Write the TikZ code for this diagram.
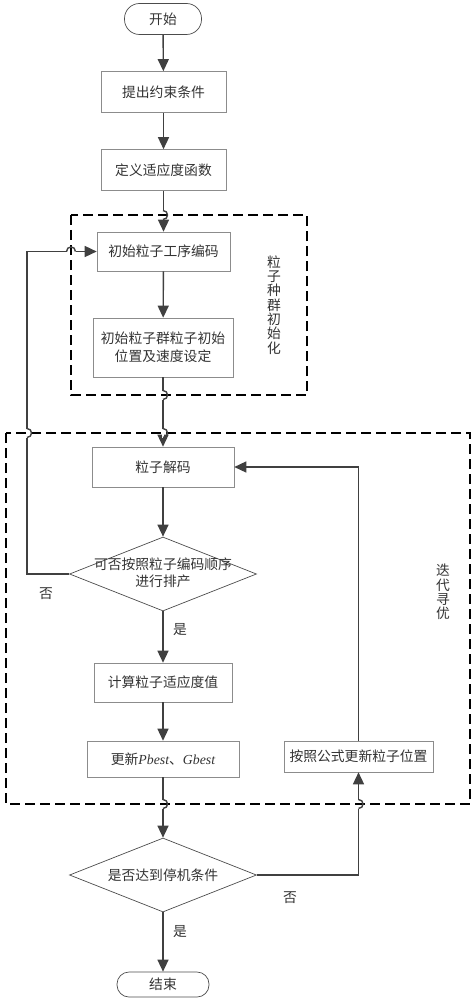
\documentclass[tikz,border=0pt]{standalone}
\usepackage{fontspec}
\setmainfont{Liberation Serif}
\newfontfamily\cjk{Noto Sans CJK SC}
\usetikzlibrary{shapes.geometric,arrows.meta}
\newcommand\hopv[2]{%
  \draw[white,line width=2.4pt] (#1,#2-4.5) -- (#1,#2+4.5);}
\newcommand\hoph[2]{%
  \draw[white,line width=2.4pt] (#1-4.5,#2) -- (#1+4.5,#2);}
\newcommand\arcv[2]{%
  \draw[conn] (#1,#2-4.5) .. controls (#1+6,#2-4.5) and (#1+6,#2+4.5) .. (#1,#2+4.5);}
\newcommand\arch[2]{%
  \draw[conn] (#1-4.5,#2) .. controls (#1-4.5,#2-6) and (#1+4.5,#2-6) .. (#1+4.5,#2);}
\newcommand\lat[1]{{\normalfont\itshape #1}}
\begin{document}
\begin{tikzpicture}[x=1pt,y=-1pt,
  txt/.style={font=\cjk\fontsize{13.8}{17.5}\selectfont,text=black!80},
  box/.style={txt,draw=black!45,line width=0.6pt,inner sep=0pt,align=center},
  term/.style={txt,draw=black!70,line width=0.7pt,rounded corners=12pt,inner sep=0pt},
  dia/.style={diamond,draw=black!70,line width=0.7pt,inner sep=0pt},
  conn/.style={draw=black!75,line width=1.4pt},
  arr/.style={conn,-{Triangle[length=12pt,width=11pt]}},
  grp/.style={draw=black,line width=2pt,dash pattern=on 10pt off 5pt},
  vlab/.style={font=\cjk\fontsize{13.8}{14.3}\selectfont,text=black!80,align=center}]
\useasboundingbox (0,0) rectangle (473,1000);
% nodes
\node[term,minimum width=77pt,minimum height=31pt,rounded corners=15pt] (start) at (163,19) {开始};
\node[box,minimum width=125pt,minimum height=41pt] (b1) at (163.5,92) {提出约束条件};
\node[box,minimum width=125pt,minimum height=41pt] (b2) at (163.5,170) {定义适应度函数};
\node[box,minimum width=133pt,minimum height=39pt] (b3) at (163.5,251.5) {初始粒子工序编码};
\node[box,minimum width=140pt,minimum height=59pt] (b4) at (163,347.5) {初始粒子群粒子初始\\位置及速度设定};
\node[box,minimum width=142pt,minimum height=40pt] (b5) at (163,467) {粒子解码};
\node[dia,minimum width=187pt,minimum height=74pt] (d1) at (163,574) {};
\node[txt,align=center] (d1t) at (163,573) {可否按照粒子编码顺序\\进行排产};
\node[box,minimum width=138pt,minimum height=39pt] (b6) at (163,682.5) {计算粒子适应度值};
\node[box,minimum width=152pt,minimum height=36pt] (b7) at (163,759) {更新\lat{Pbest}、\lat{Gbest}};
\node[box,minimum width=149pt,minimum height=31pt] (b8) at (358.5,756.5) {按照公式更新粒子位置};
\node[dia,minimum width=187pt,minimum height=74pt] (d2) at (163,875) {};
\node[txt] (d2t) at (163,875) {是否达到停机条件};
\node[term,minimum width=92pt,minimum height=25pt] (end) at (163,984.5) {结束};
% labels
\node[vlab] (g1l) at (274,305) {粒\\子\\种\\群\\初\\始\\化};
\node[vlab] (g2l) at (443,592) {迭\\代\\寻\\优};
\node[txt] (no1) at (46,594) {否};
\node[txt] (yes1) at (180,630) {是};
\node[txt] (no2) at (290,898) {否};
\node[txt] (yes2) at (180,932) {是};
% connectors
\coordinate (l1) at (27,574);
\draw[arr] (start) -- (b1);
\draw[arr] (b1) -- (b2);
\draw[arr] (b2) -- (b3);
\draw[arr] (b3) -- (b4);
\draw[arr] (b4) -- (b5);
\draw[arr] (b5) -- (d1);
\draw[arr] (d1) -- (b6);
\draw[arr] (b6) -- (b7);
\draw[arr] (b7) -- (d2);
\draw[arr] (d2) -- (end);
\draw[arr] (d1.west) -- (l1) |- (b3.west);
\draw[arr] (d2.east) -| (b8.south);
\draw[arr] (b8.north) |- (b5.east);
% hops
\hopv{163}{215} \hopv{163}{395} \hopv{163}{433} \hopv{163}{804}
\hopv{358.5}{804} \hopv{27}{433} \hoph{71}{251.5}
% groups
\draw[grp] (71,215) rectangle (307,395);
\draw[grp] (6,433) rectangle (470,804);
\arcv{163}{215} \arcv{163}{395} \arcv{163}{433} \arcv{163}{804}
\arcv{358.5}{804} \arcv{27}{433} \arch{71}{251.5}
\end{tikzpicture}
\end{document}
